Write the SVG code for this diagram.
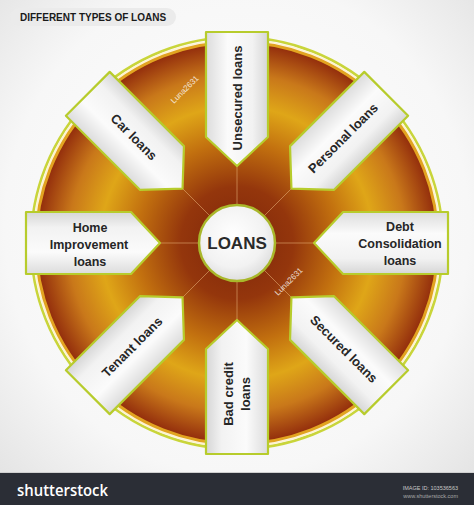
<svg xmlns="http://www.w3.org/2000/svg" width="474" height="505" viewBox="0 0 474 505">
<defs>
<radialGradient id="bg" cx="0.5" cy="0.45" r="0.7">
<stop offset="0" stop-color="#ffffff"/>
<stop offset="0.7" stop-color="#f7f7f7"/>
<stop offset="1" stop-color="#e4e4e4"/>
</radialGradient>
<radialGradient id="disc" cx="237" cy="243" r="201" gradientUnits="userSpaceOnUse">
<stop offset="0" stop-color="#7e260a"/>
<stop offset="0.28" stop-color="#94360c"/>
<stop offset="0.5" stop-color="#c2700f"/>
<stop offset="0.68" stop-color="#dfa618"/>
<stop offset="0.84" stop-color="#c9781a"/>
<stop offset="1" stop-color="#922c0c"/>
</radialGradient>
<linearGradient id="box" x1="0" y1="0" x2="1" y2="0">
<stop offset="0" stop-color="#dcdcdc"/>
<stop offset="0.35" stop-color="#fbfbfb"/>
<stop offset="0.75" stop-color="#f2f2f2"/>
<stop offset="1" stop-color="#d6d6d6"/>
</linearGradient>
<radialGradient id="hub" cx="0.45" cy="0.4" r="0.6">
<stop offset="0" stop-color="#ffffff"/>
<stop offset="0.7" stop-color="#f2f2f2"/>
<stop offset="1" stop-color="#dedede"/>
</radialGradient>
<path id="arrow" d="M -31 -211 L 31 -211 L 31 -106 L 0 -77 L -31 -106 Z"/>
</defs>
<style>
.arr{fill:url(#box);stroke:#b7cc2c;stroke-width:2.2;stroke-linejoin:round}
.lbl{font-family:"Liberation Sans",Arial,sans-serif;font-weight:bold;font-size:13px;fill:#262626;text-anchor:middle}
.lblh{font-family:"Liberation Sans",Arial,sans-serif;font-weight:bold;font-size:12.5px;fill:#262626;text-anchor:middle}
.spoke{stroke:#e8b27a;stroke-width:0.8;opacity:0.7}
.wm{font-family:"Liberation Sans",Arial,sans-serif;font-size:8px;fill:#ffffff;opacity:0.8}
</style>
<rect x="0" y="0" width="474" height="505" fill="url(#bg)"/>
<g id="title">
<rect x="10" y="8" width="166" height="18" rx="9" fill="#ebebeb"/>
<text x="20" y="20.5" font-family="Liberation Sans, Arial, sans-serif" font-weight="bold" font-size="10" fill="#1a1a1a">DIFFERENT TYPES OF LOANS</text>
</g>
<g id="wheel">
<circle cx="237" cy="243" r="206" fill="none" stroke="#c9d53a" stroke-width="2.5"/>
<circle cx="237" cy="243" r="203.5" fill="none" stroke="#fff4cf" stroke-width="1.6"/>
<circle cx="237" cy="243" r="201" fill="url(#disc)" stroke="#e2a420" stroke-width="3"/>
</g>
<g id="connectors">
<line class="spoke" x1="237" y1="205" x2="237" y2="166"/>
<line class="spoke" x1="237" y1="281" x2="237" y2="320"/>
<line class="spoke" x1="199" y1="243" x2="160" y2="243"/>
<line class="spoke" x1="275" y1="243" x2="314" y2="243"/>
<line class="spoke" x1="210" y1="216" x2="183" y2="189"/>
<line class="spoke" x1="264" y1="216" x2="291" y2="189"/>
<line class="spoke" x1="210" y1="270" x2="183" y2="297"/>
<line class="spoke" x1="264" y1="270" x2="291" y2="297"/>
</g>
<g id="n-unsecured">
<use href="#arrow" class="arr" transform="translate(237,243) rotate(0)"/>
<text class="lbl" transform="translate(237,98) rotate(-90)" dy="4.6">Unsecured loans</text>
</g>
<g id="n-personal">
<use href="#arrow" class="arr" transform="translate(237,243) rotate(45)"/>
<text class="lbl" transform="translate(343,138) rotate(-45)" dy="4.6">Personal loans</text>
</g>
<g id="n-debt">
<use href="#arrow" class="arr" transform="translate(237,243) rotate(90)"/>
<text class="lblh" x="400" y="231">Debt</text>
<text class="lblh" x="400" y="248">Consolidation</text>
<text class="lblh" x="400" y="265">loans</text>
</g>
<g id="n-secured">
<use href="#arrow" class="arr" transform="translate(237,243) rotate(135)"/>
<text class="lbl" transform="translate(344,349) rotate(45)" dy="4.6">Secured loans</text>
</g>
<g id="n-badcredit">
<use href="#arrow" class="arr" transform="translate(237,243) rotate(180)"/>
<text class="lbl" transform="translate(237,394) rotate(-90)"><tspan x="0" y="-4">Bad credit</tspan><tspan x="0" y="13">loans</tspan></text>
</g>
<g id="n-tenant">
<use href="#arrow" class="arr" transform="translate(237,243) rotate(225)"/>
<text class="lbl" transform="translate(132,347) rotate(-45)" dy="4.6">Tenant loans</text>
</g>
<g id="n-home">
<use href="#arrow" class="arr" transform="translate(237,243) rotate(270)"/>
<text class="lblh" x="90" y="232">Home</text>
<text class="lblh" x="89" y="249">Improvement</text>
<text class="lblh" x="90" y="266">loans</text>
</g>
<g id="n-car">
<use href="#arrow" class="arr" transform="translate(237,243) rotate(315)"/>
<text class="lbl" transform="translate(134,137) rotate(45)" dy="4.6">Car loans</text>
</g>
<g id="n-loans">
<circle cx="237" cy="243" r="38" fill="url(#hub)" stroke="#a9b72a" stroke-width="2.5"/>
<text x="237" y="249" text-anchor="middle" font-family="Liberation Sans, Arial, sans-serif" font-weight="bold" font-size="17" fill="#2a2a2a">LOANS</text>
</g>
<text class="wm" transform="translate(174,104) rotate(-45)">Luna2631</text>
<text class="wm" transform="translate(278,296) rotate(-45)">Luna2631</text>
<g id="footer">
<rect x="0" y="472" width="474" height="1" fill="#d0d0d0"/>
<rect x="0" y="473" width="474" height="32" fill="#2b2e36"/>
<text x="17" y="496" font-family="Open Sans, Liberation Sans, sans-serif" font-weight="600" font-size="16" fill="#ffffff" textLength="91" lengthAdjust="spacingAndGlyphs">shutterstock</text>
<text x="458" y="490" text-anchor="end" font-family="Liberation Sans, Arial, sans-serif" font-size="5.5" fill="#c8c8c8">IMAGE ID: 103536563</text>
<text x="458" y="497.5" text-anchor="end" font-family="Liberation Sans, Arial, sans-serif" font-size="5.5" fill="#a8a8a8">www.shutterstock.com</text>
</g>
</svg>
